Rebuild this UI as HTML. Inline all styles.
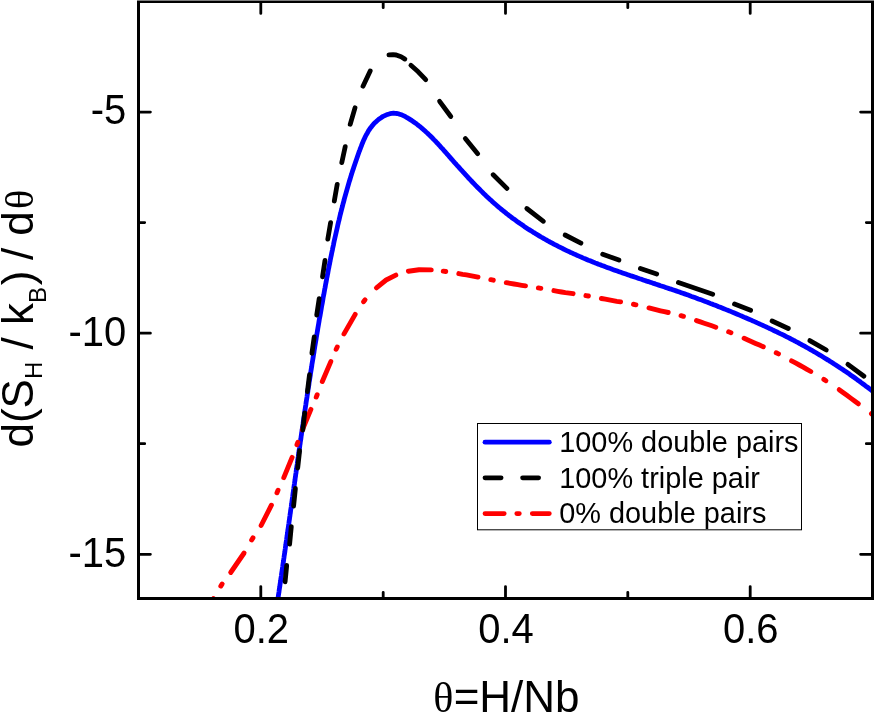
<!DOCTYPE html>
<html><head><meta charset="utf-8"><title>Entropy derivative</title>
<style>html,body{margin:0;padding:0;background:#fff}svg{display:block}text{font-family:"Liberation Sans",sans-serif;fill:#000}</style>
</head><body>
<svg width="874" height="712" viewBox="0 0 874 712">
<rect width="874" height="712" fill="#fff"/>
<defs><clipPath id="c"><rect x="138.5" y="1.5" width="734.0" height="597.0"/></clipPath></defs>
<g clip-path="url(#c)" fill="none" stroke-linecap="round" stroke-linejoin="round" stroke-width="4.8">
<path stroke="#00f" d="M276.5 608.0 L276.8 606.2 L277.1 604.4 L277.3 602.6 L277.6 600.8 L277.9 599.0 L278.2 597.2 L278.4 595.4 L278.7 593.6 L279.0 591.8 L279.2 590.0 L279.5 588.2 L279.8 586.4 L280.0 584.6 L280.3 582.8 L280.6 581.0 L280.8 579.2 L281.1 577.4 L281.4 575.6 L281.6 573.8 L281.9 572.0 L282.2 570.2 L282.4 568.4 L282.7 566.6 L282.9 564.8 L283.2 563.0 L283.5 561.2 L283.7 559.4 L284.0 557.6 L284.2 555.8 L284.5 554.0 L284.8 552.2 L285.0 550.4 L285.3 548.6 L285.5 546.8 L285.8 545.0 L286.0 543.2 L286.3 541.4 L286.6 539.6 L286.8 537.8 L287.1 536.0 L287.3 534.2 L287.6 532.4 L287.8 530.5 L288.1 528.7 L288.4 526.9 L288.6 525.1 L288.9 523.3 L289.1 521.5 L289.4 519.7 L289.6 517.9 L289.9 516.1 L290.1 514.3 L290.4 512.5 L290.6 510.7 L290.9 508.9 L291.2 507.1 L291.4 505.3 L291.7 503.5 L291.9 501.7 L292.2 499.9 L292.4 498.1 L292.7 496.3 L292.9 494.5 L293.2 492.7 L293.4 490.9 L293.7 489.1 L293.9 487.3 L294.2 485.4 L294.5 483.6 L294.7 481.8 L295.0 480.0 L295.2 478.2 L295.5 476.4 L295.7 474.6 L296.0 472.8 L296.2 471.0 L296.5 469.2 L296.7 467.4 L297.0 465.6 L297.3 463.8 L297.5 462.0 L297.8 460.2 L298.0 458.4 L298.3 456.6 L298.5 454.8 L298.8 453.0 L299.0 451.2 L299.3 449.4 L299.6 447.6 L299.8 445.7 L300.1 443.9 L300.3 442.1 L300.6 440.3 L300.9 438.5 L301.1 436.7 L301.4 434.9 L301.6 433.1 L301.9 431.3 L302.2 429.5 L302.4 427.7 L302.7 425.9 L303.0 424.1 L303.2 422.3 L303.5 420.5 L303.7 418.7 L304.0 416.9 L304.3 415.1 L304.5 413.3 L304.8 411.5 L305.1 409.7 L305.3 407.9 L305.6 406.1 L305.9 404.3 L306.1 402.5 L306.4 400.7 L306.7 398.9 L307.0 397.1 L307.2 395.3 L307.5 393.5 L307.8 391.7 L308.0 389.9 L308.3 388.1 L308.6 386.3 L308.9 384.5 L309.1 382.6 L309.4 380.8 L309.7 379.0 L310.0 377.2 L310.3 375.4 L310.5 373.6 L310.8 371.8 L311.1 370.0 L311.4 368.2 L311.7 366.4 L311.9 364.6 L312.2 362.8 L312.5 361.1 L312.8 359.3 L313.1 357.5 L313.4 355.7 L313.7 353.9 L314.0 352.1 L314.2 350.3 L314.5 348.5 L314.8 346.7 L315.1 344.9 L315.4 343.1 L315.7 341.3 L316.0 339.5 L316.3 337.7 L316.6 335.9 L316.9 334.1 L317.2 332.3 L317.5 330.5 L317.8 328.7 L318.1 326.9 L318.4 325.1 L318.7 323.3 L319.0 321.5 L319.3 319.7 L319.6 317.9 L320.0 316.1 L320.3 314.4 L320.6 312.6 L320.9 310.8 L321.2 309.0 L321.5 307.2 L321.8 305.4 L322.2 303.6 L322.5 301.8 L322.8 300.0 L323.1 298.2 L323.4 296.4 L323.8 294.6 L324.1 292.9 L324.4 291.1 L324.7 289.3 L325.1 287.5 L325.4 285.7 L325.7 283.9 L326.1 282.1 L326.4 280.3 L326.7 278.5 L327.1 276.8 L327.4 275.0 L327.8 273.2 L328.1 271.4 L328.4 269.6 L328.8 267.8 L329.1 266.0 L329.5 264.3 L329.8 262.5 L330.2 260.7 L330.5 258.9 L330.9 257.1 L331.3 255.3 L331.6 253.6 L332.0 251.8 L332.4 250.0 L332.7 248.2 L333.1 246.4 L333.5 244.7 L333.8 242.9 L334.2 241.1 L334.6 239.3 L335.0 237.5 L335.4 235.8 L335.8 234.0 L336.2 232.2 L336.6 230.4 L337.0 228.7 L337.4 226.9 L337.8 225.1 L338.2 223.4 L338.6 221.6 L339.1 219.8 L339.5 218.0 L339.9 216.3 L340.3 214.5 L340.8 212.7 L341.2 211.0 L341.7 209.2 L342.1 207.5 L342.6 205.7 L343.0 203.9 L343.5 202.2 L344.0 200.4 L344.4 198.6 L344.9 196.9 L345.4 195.1 L345.9 193.4 L346.4 191.6 L346.9 189.9 L347.4 188.1 L347.9 186.4 L348.4 184.6 L348.9 182.9 L349.4 181.1 L350.0 179.4 L350.5 177.6 L351.0 175.9 L351.6 174.1 L352.1 172.4 L352.7 170.6 L353.3 168.9 L353.8 167.2 L354.4 165.4 L355.0 163.7 L355.6 161.9 L356.2 160.2 L356.8 158.5 L357.4 156.7 L358.0 155.0 L358.6 153.3 L359.2 151.5 L359.9 149.8 L360.5 148.1 L361.2 146.4 L361.8 144.7 L362.5 143.0 L363.2 141.3 L364.0 139.6 L364.7 138.0 L365.5 136.3 L366.3 134.7 L367.2 133.2 L368.1 131.6 L369.0 130.1 L370.0 128.6 L371.1 127.2 L372.2 125.8 L373.3 124.4 L374.5 123.1 L375.8 121.9 L377.1 120.7 L378.5 119.5 L380.0 118.4 L381.5 117.4 L383.1 116.4 L384.8 115.6 L386.5 114.8 L388.3 114.2 L390.0 113.7 L391.8 113.4 L393.6 113.2 L395.3 113.3 L397.1 113.5 L398.8 113.9 L400.5 114.5 L402.2 115.1 L403.9 115.9 L405.5 116.7 L407.1 117.7 L408.7 118.6 L410.3 119.6 L411.9 120.6 L413.4 121.7 L414.9 122.8 L416.4 123.8 L417.8 125.0 L419.3 126.1 L420.7 127.2 L422.1 128.4 L423.4 129.6 L424.8 130.8 L426.1 132.0 L427.5 133.2 L428.8 134.5 L430.1 135.7 L431.4 137.0 L432.7 138.3 L433.9 139.6 L435.2 140.9 L436.4 142.2 L437.7 143.5 L438.9 144.9 L440.1 146.2 L441.3 147.6 L442.6 148.9 L443.8 150.3 L445.0 151.6 L446.2 153.0 L447.4 154.4 L448.6 155.7 L449.8 157.1 L451.0 158.5 L452.2 159.8 L453.4 161.2 L454.6 162.6 L455.8 163.9 L457.0 165.3 L458.3 166.7 L459.5 168.0 L460.7 169.4 L461.9 170.7 L463.2 172.1 L464.4 173.4 L465.6 174.8 L466.9 176.1 L468.1 177.5 L469.3 178.8 L470.6 180.1 L471.9 181.5 L473.1 182.8 L474.4 184.1 L475.6 185.4 L476.9 186.7 L478.2 188.0 L479.5 189.3 L480.8 190.6 L482.1 191.9 L483.4 193.2 L484.7 194.4 L486.0 195.7 L487.3 196.9 L488.7 198.2 L490.0 199.4 L491.3 200.6 L492.7 201.9 L494.0 203.1 L495.4 204.3 L496.8 205.5 L498.1 206.7 L499.5 207.8 L500.9 209.0 L502.3 210.1 L503.7 211.3 L505.2 212.4 L506.6 213.6 L508.0 214.7 L509.4 215.8 L510.9 216.9 L512.3 218.0 L513.8 219.1 L515.3 220.1 L516.7 221.2 L518.2 222.2 L519.7 223.3 L521.2 224.3 L522.7 225.3 L524.2 226.4 L525.7 227.4 L527.2 228.4 L528.7 229.4 L530.3 230.4 L531.8 231.3 L533.3 232.3 L534.9 233.2 L536.4 234.2 L538.0 235.1 L539.6 236.1 L541.1 237.0 L542.7 237.9 L544.3 238.8 L545.8 239.7 L547.4 240.6 L549.0 241.5 L550.6 242.3 L552.2 243.2 L553.8 244.1 L555.4 244.9 L557.0 245.7 L558.7 246.6 L560.3 247.4 L561.9 248.2 L563.5 249.0 L565.2 249.8 L566.8 250.6 L568.5 251.4 L570.1 252.2 L571.7 252.9 L573.4 253.7 L575.1 254.4 L576.7 255.2 L578.4 255.9 L580.0 256.6 L581.7 257.3 L583.4 258.1 L585.1 258.8 L586.7 259.5 L588.4 260.2 L590.1 260.8 L591.8 261.5 L593.5 262.2 L595.2 262.9 L596.9 263.5 L598.5 264.2 L600.2 264.8 L601.9 265.5 L603.6 266.1 L605.4 266.8 L607.1 267.4 L608.8 268.0 L610.5 268.6 L612.2 269.3 L613.9 269.9 L615.6 270.5 L617.3 271.1 L619.0 271.7 L620.8 272.3 L622.5 272.9 L624.2 273.5 L625.9 274.1 L627.7 274.7 L629.4 275.3 L631.1 275.9 L632.8 276.4 L634.6 277.0 L636.3 277.6 L638.0 278.2 L639.7 278.8 L641.5 279.3 L643.2 279.9 L644.9 280.5 L646.7 281.1 L648.4 281.6 L650.1 282.2 L651.9 282.8 L653.6 283.4 L655.3 283.9 L657.0 284.5 L658.8 285.1 L660.5 285.7 L662.2 286.2 L664.0 286.8 L665.7 287.4 L667.4 288.0 L669.2 288.6 L670.9 289.1 L672.6 289.7 L674.3 290.3 L676.1 290.9 L677.8 291.5 L679.5 292.1 L681.2 292.7 L682.9 293.3 L684.7 293.9 L686.4 294.5 L688.1 295.1 L689.8 295.7 L691.5 296.4 L693.2 297.0 L694.9 297.6 L696.6 298.2 L698.4 298.9 L700.1 299.5 L701.8 300.1 L703.5 300.8 L705.2 301.4 L706.9 302.1 L708.6 302.7 L710.3 303.4 L712.0 304.0 L713.7 304.7 L715.4 305.3 L717.1 306.0 L718.7 306.7 L720.4 307.3 L722.1 308.0 L723.8 308.7 L725.5 309.4 L727.2 310.1 L728.9 310.7 L730.6 311.4 L732.2 312.1 L733.9 312.8 L735.6 313.5 L737.3 314.2 L738.9 314.9 L740.6 315.6 L742.3 316.3 L744.0 317.1 L745.6 317.8 L747.3 318.5 L749.0 319.2 L750.6 319.9 L752.3 320.7 L754.0 321.4 L755.6 322.1 L757.3 322.9 L758.9 323.6 L760.6 324.4 L762.3 325.1 L763.9 325.9 L765.6 326.6 L767.2 327.4 L768.9 328.2 L770.5 328.9 L772.1 329.7 L773.8 330.5 L775.4 331.3 L777.1 332.0 L778.7 332.8 L780.3 333.6 L782.0 334.4 L783.6 335.2 L785.2 336.0 L786.8 336.9 L788.5 337.7 L790.1 338.5 L791.7 339.3 L793.3 340.2 L794.9 341.0 L796.5 341.9 L798.1 342.7 L799.7 343.6 L801.3 344.5 L802.9 345.3 L804.5 346.2 L806.1 347.1 L807.7 348.0 L809.3 348.9 L810.9 349.8 L812.5 350.7 L814.0 351.6 L815.6 352.5 L817.2 353.5 L818.7 354.4 L820.3 355.3 L821.9 356.3 L823.4 357.2 L825.0 358.2 L826.5 359.1 L828.1 360.1 L829.6 361.1 L831.2 362.0 L832.7 363.0 L834.2 364.0 L835.8 365.0 L837.3 366.0 L838.8 367.0 L840.3 368.0 L841.9 369.0 L843.4 370.0 L844.9 371.1 L846.4 372.1 L847.9 373.1 L849.4 374.1 L850.9 375.2 L852.4 376.2 L853.9 377.3 L855.3 378.3 L856.8 379.4 L858.3 380.5 L859.8 381.5 L861.2 382.6 L862.7 383.7 L864.2 384.8 L865.6 385.9 L867.1 386.9 L868.5 388.0 L870.0 389.1 L871.4 390.3 L872.9 391.4 L874.3 392.5 L875.7 393.6 L877.1 394.7 L878.6 395.8 L880.0 397.0"/>
<g stroke="#f00" stroke-width="4.9">
<path d="M210.5 603.0 L213.5 598.5"/>
<path d="M230.7 572.5 L244.1 553.0"/>
<path d="M261.1 525.5 L271.4 505.2"/>
<path d="M283.8 477.6 L292.1 457.4"/>
<path d="M302.4 429.7 L310.9 409.4"/>
<path d="M322.3 381.5 L330.8 361.6"/>
<path d="M344.0 333.9 L355.2 314.4"/>
<path d="M376.4 287.8 L386.1 280.0 L395.8 275.1"/>
<path d="M408.4 271.2 L419.0 269.7 L431.3 269.9"/>
<path d="M458.8 273.6 L462.6 274.3 L466.5 274.9 L470.3 275.6 L474.2 276.4 L478.0 277.1"/>
<path d="M506.3 282.7 L510.2 283.4 L514.0 284.0 L517.9 284.7 L521.7 285.3 L525.5 285.9"/>
<path d="M553.9 290.6 L557.7 291.3 L561.6 292.0 L565.4 292.6 L569.3 293.1 L573.1 293.7"/>
<path d="M601.4 298.5 L605.3 299.2 L609.1 299.9 L613.0 300.6 L616.8 301.3 L620.6 301.9"/>
<path d="M649.0 307.9 L652.8 308.9 L656.7 309.9 L660.5 310.8 L664.4 311.7 L668.2 312.5"/>
<path d="M696.5 320.6 L700.4 321.9 L704.2 323.2 L708.1 324.5 L711.9 325.8 L715.8 327.2"/>
<path d="M744.1 338.3 L747.9 340.0 L751.8 341.7 L755.6 343.4 L759.5 345.1 L763.3 346.8"/>
<path d="M791.6 360.8 L795.5 362.9 L799.3 365.0 L803.2 367.1 L807.0 369.3 L810.8 371.5"/>
<path d="M839.2 389.7 L843.0 392.5 L846.9 395.3 L850.7 398.1 L854.6 401.0 L858.4 403.8"/>
<path d="M886.8 425.0 L886.0 424.5 L885.2 423.9 L884.4 423.4 L883.7 422.8 L882.9 422.2"/>
<path d="M220.81 586.04 L222.19 583.96"/>
<path d="M251.64 539.96 L252.96 537.84"/>
<path d="M276.99 492.64 L278.01 490.36"/>
<path d="M296.96 444.67 L297.84 442.33"/>
<path d="M316.23 397.06 L317.17 394.74"/>
<path d="M336.16 349.23 L337.24 346.97"/>
<path d="M363.52 301.78 L365.08 299.82"/>
<path d="M443.27 271.10 L445.73 271.50"/>
<path d="M490.82 279.69 L493.28 280.17"/>
<path d="M538.37 287.91 L540.83 288.32"/>
<path d="M585.92 295.60 L588.38 296.02"/>
<path d="M633.48 304.26 L635.92 304.78"/>
<path d="M681.05 315.66 L683.45 316.34"/>
<path d="M728.64 331.78 L730.96 332.69"/>
<path d="M776.23 352.82 L778.47 353.92"/>
<path d="M823.85 379.36 L825.95 380.71"/>
<path d="M871.45 413.71 L873.45 415.21"/>
</g>
<g stroke="#000">
<path d="M285.1 581.8 L286.7 565.5"/>
<path d="M289.6 544.2 L291.3 526.6"/>
<path d="M293.6 506.0 L295.4 488.4"/>
<path d="M297.7 468.0 L299.6 450.7"/>
<path d="M302.8 430.0 L304.7 413.0"/>
<path d="M307.4 391.7 L309.5 374.7"/>
<path d="M311.9 353.4 L314.2 337.0"/>
<path d="M316.7 315.1 L319.2 298.7"/>
<path d="M322.5 276.9 L325.0 260.4"/>
<path d="M327.8 239.1 L330.6 222.7"/>
<path d="M334.3 201.0 L337.2 184.4"/>
<path d="M341.8 162.6 L345.2 146.7"/>
<path d="M350.2 124.3 L355.0 107.8"/>
<path d="M363.0 86.2 L370.2 71.0"/>
<path d="M388.9 54.9 L393.0 54.7 L396.2 55.0 L401.1 56.8 L404.9 59.1"/>
<path d="M410.9 65.3 L418.2 71.8 L425.7 79.7"/>
<path d="M439.6 101.3 L450.8 116.5"/>
<path d="M465.3 138.5 L477.7 153.7"/>
<path d="M493.2 174.7 L506.9 188.4"/>
<path d="M526.8 208.5 L543.4 221.3"/>
<path d="M565.1 235.0 L580.9 243.2"/>
<path d="M602.7 254.2 L618.9 260.1"/>
<path d="M640.4 268.5 L656.7 274.0"/>
<path d="M678.4 282.5 L712.7 294.2"/>
<path d="M734.5 304.1 L750.6 310.3"/>
<path d="M772.1 321.0 L788.3 328.5"/>
<path d="M809.8 340.6 L826.3 350.0"/>
<path d="M847.9 364.4 L864.0 376.2"/>
</g>
</g>
<g stroke="#000" fill="none" stroke-linecap="round">
<path d="M138.5 1.5 V598.5 H872.5 V1.5" stroke-width="3" stroke-linecap="butt" stroke-linejoin="miter"/>
<path d="M137.0 1.75 H874.0" stroke-width="2.5" stroke-linecap="butt"/>
<g stroke-width="2.8">
<path d="M260.8 597.0 v-10.4 M260.8 3.0 v10.4"/>
<path d="M505.5 597.0 v-10.4 M505.5 3.0 v10.4"/>
<path d="M750.2 597.0 v-10.4 M750.2 3.0 v10.4"/>
<path d="M383.2 597.0 v-4.7 M383.2 3.0 v4.7"/>
<path d="M627.8 597.0 v-4.7 M627.8 3.0 v4.7"/>
<path d="M140.0 112.1 h10.4 M871.0 112.1 h-10.4"/>
<path d="M140.0 333.2 h10.4 M871.0 333.2 h-10.4"/>
<path d="M140.0 554.3 h10.4 M871.0 554.3 h-10.4"/>
<path d="M140.0 222.6 h4.7 M871.0 222.6 h-4.7"/>
<path d="M140.0 443.7 h4.7 M871.0 443.7 h-4.7"/>
</g></g>
<g font-size="40">
<text transform="translate(261.3 642.6) scale(1 1.045)" text-anchor="middle">0.2</text>
<text transform="translate(506.0 642.6) scale(1 1.045)" text-anchor="middle">0.4</text>
<text transform="translate(750.7 642.6) scale(1 1.045)" text-anchor="middle">0.6</text>
<text transform="translate(126.2 124.4) scale(1 1.045)" text-anchor="end">-5</text>
<text transform="translate(126.2 345.5) scale(1 1.045)" text-anchor="end">-10</text>
<text transform="translate(126.2 566.6) scale(1 1.045)" text-anchor="end">-15</text>
</g>
<text x="433.2" y="711.6" font-size="44"><tspan font-family="Liberation Serif,serif" font-size="42" dy="0.8">θ</tspan><tspan dy="-0.8" dx="0.3">=H/Nb</tspan></text>
<text transform="translate(33 447.5) rotate(-90)" font-size="44">d(S<tspan font-size="24" dy="9.1">H</tspan><tspan dy="-9.1"> / k</tspan><tspan font-size="24" dy="12.8">B</tspan><tspan dy="-12.8" dx="1.8">)</tspan><tspan dx="-1.8"> / d</tspan><tspan font-family="Liberation Serif,serif" font-size="40" dx="2.2">θ</tspan></text>
<rect x="477.5" y="423.5" width="324" height="106.3" fill="#fff" stroke="#000" stroke-width="1"/>
<g fill="none" stroke-linecap="round" stroke-width="4.8">
<path stroke="#00f" d="M485 442.2 H549.3"/>
<path stroke="#000" d="M485 477.8 H501.1 M522.6 477.8 H538.6"/>
<path stroke="#f00" d="M485 513.6 H504.2 M516.8 513.6 h2.5 M532.3 513.6 H549.3"/>
</g>
<g font-size="28.9">
<text transform="translate(559.2 452.2) scale(1 1.045)">100% double pairs</text>
<text transform="translate(559.2 487.6) scale(1 1.045)">100% triple pair</text>
<text transform="translate(559.2 522.8) scale(1 1.045)">0% double pairs</text>
</g>
</svg></body></html>
